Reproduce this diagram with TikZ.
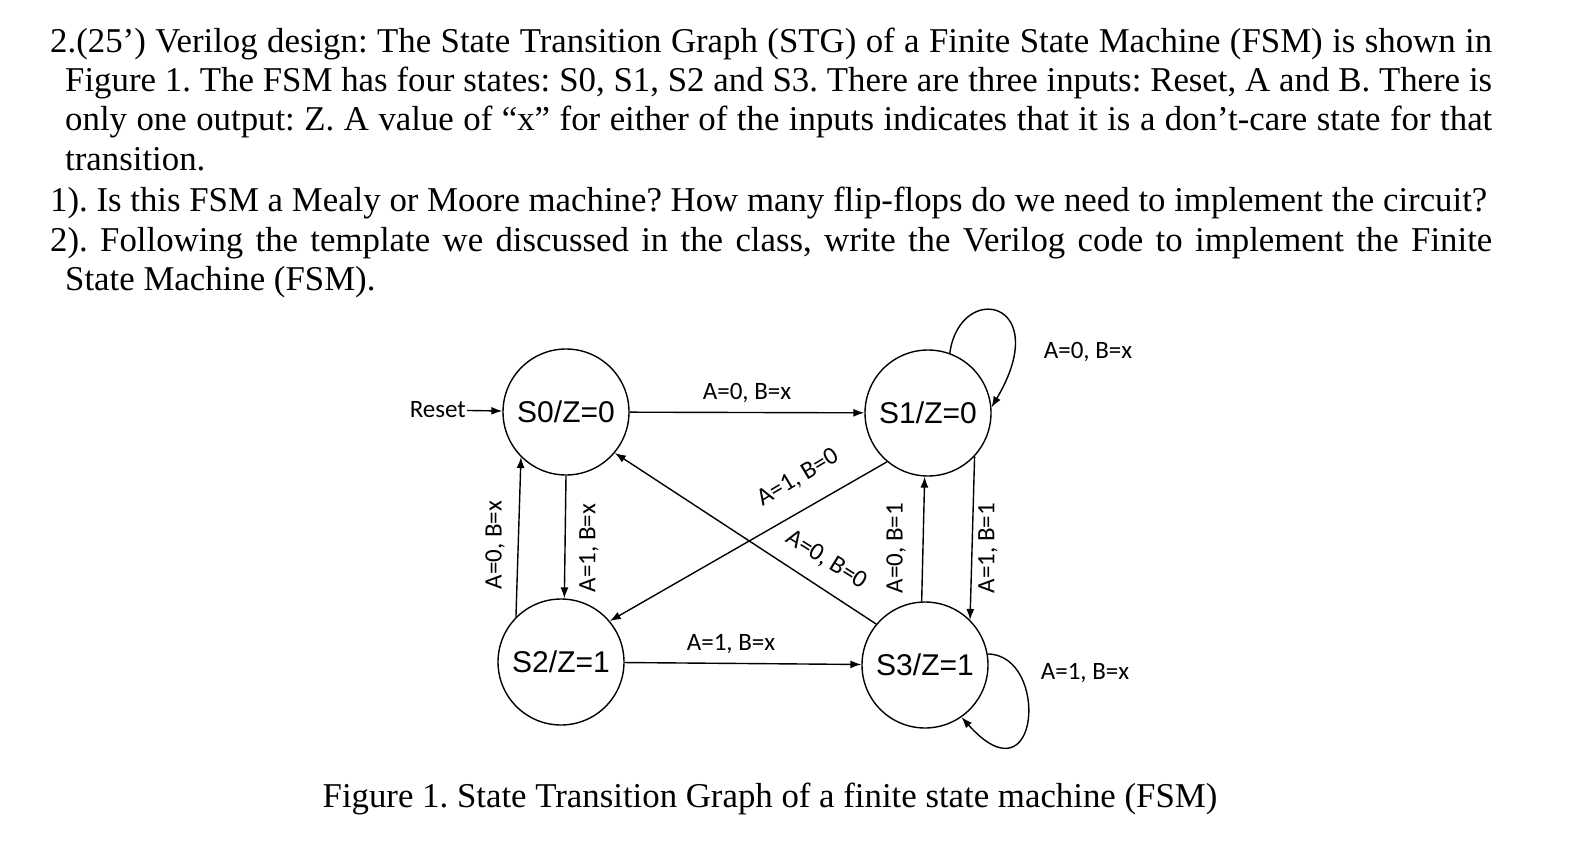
\documentclass[tikz,border=0pt]{standalone}
\usepackage{fontspec}
\setmainfont{Liberation Serif}
\newfontfamily\lsans{Liberation Sans}
\newfontfamily\lcal{Carlito}
\usetikzlibrary{arrows.meta}
\begin{document}
\frenchspacing
\begin{tikzpicture}[x=1pt,y=-1pt,
  st/.style={draw,circle,minimum size=126pt,inner sep=0pt,font=\lsans\fontsize{30}{30}\selectfont,line width=1.4pt},
  lab/.style={font=\lcal\fontsize{25}{25}\selectfont,inner sep=1pt},
  tr/.style={-{Latex[length=11pt,width=8pt]},line width=1.4pt},
  para/.style={anchor=base west,inner sep=0pt,font=\fontsize{34.8}{34.8}\selectfont}]
\useasboundingbox (0,0) rectangle (1582,856);
\node[para] (l1) at (50,53) {\makebox[1442pt][s]{2.(25’) Verilog design: The State Transition Graph (STG) of a Finite State Machine (FSM) is shown in}};
\node[para] (l2) at (65,92) {\makebox[1427pt][s]{Figure 1. The FSM has four states: S0, S1, S2 and S3. There are three inputs: Reset, A and B. There is}};
\node[para] (l3) at (65,131) {\makebox[1427pt][s]{only one output: Z. A value of “x” for either of the inputs indicates that it is a don’t-care state for that}};
\node[para] (l4) at (65,171) {transition.};
\node[para] (l5) at (50,211) {1). Is this FSM a Mealy or Moore machine? How many flip-flops do we need to implement the circuit?};
\node[para] (l6) at (50,251) {\makebox[1442pt][s]{2). Following the template we discussed in the class, write the Verilog code to implement the Finite}};
\node[para] (l7) at (65,290) {State Machine (FSM).};
\node[para,anchor=base] (cap) at (770,807) {Figure 1. State Transition Graph of a finite state machine (FSM)};

\node[st] (S0) at (566,412) {S0/Z=0};
\node[st] (S1) at (928,413) {S1/Z=0};
\node[st] (S2) at (561,662) {S2/Z=1};
\node[st] (S3) at (925,665) {S3/Z=1};
\node[lab,anchor=east] (rs) at (467,410) {Reset};
\draw[tr] (rs) -- (S0);

\draw[tr] (S0) -- (S1) node[lab,midway,above=8pt] {A=0, B=x};
\draw[tr] (S2) -- (S3) node[lab,midway,above=8pt,xshift=-12pt] {A=1, B=x};
\draw[tr] (S2.135) -- (S0.225);
\node[lab,rotate=90] at (495,545) {A=0, B=x};
\draw[tr] (S0.-90) -- (S2.87);
\node[lab,rotate=90] at (589,548) {A=1, B=x};
\draw[tr] (S3.93) -- (S1.-93);
\node[lab,rotate=90] at (896,548) {A=0, B=1};
\draw[tr] (S1.-43) -- (S3.45);
\node[lab,rotate=90] at (988,548) {A=1, B=1};
\draw[tr] (S1.-130) -- (S2.40);
\node[lab,rotate=31] at (798,478) {A=1, B=0};
\draw[tr] (S3.140) -- (S0.-40);
\node[lab,rotate=-32] at (826,560) {A=0, B=0};
\draw[tr] (S1.70) .. controls (960,280) and (1055,300) .. (S1.5);
\node[lab] at (1088,352) {A=0, B=x};
\draw[tr] (S3.10) .. controls (1050,655) and (1040,805) .. (S3.-55);
\node[lab] at (1085,673) {A=1, B=x};
\end{tikzpicture}
\end{document}
